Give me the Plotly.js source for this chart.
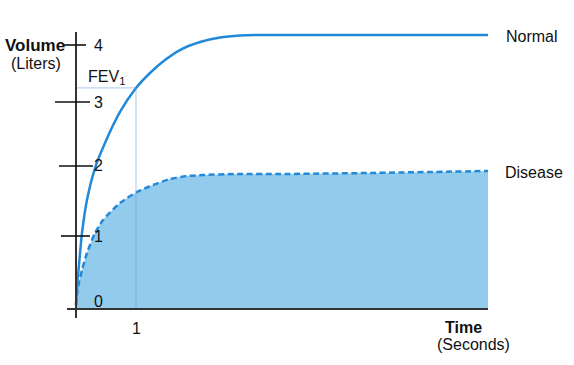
<!DOCTYPE html>
<html>
<head>
<meta charset="utf-8">
<script src="https://cdn.plot.ly/plotly-3.0.1.min.js"></script>
<style>html,body{margin:0;padding:0;background:#fff;}#chart{width:574px;height:365px;}</style>
</head>
<body>
<div id="chart"></div>
<script>
// Time in seconds, volume in liters
var normalTime   = [0, 0.017, 0.05, 0.1, 0.183, 0.317, 0.483, 0.733, 1.0, 1.233, 1.483, 1.733, 2.067, 2.4, 2.733, 2.983, 6.867];
var normalVolume = [0.061, 0.333, 0.667, 1.152, 1.652, 2.136, 2.515, 2.985, 3.348, 3.576, 3.773, 3.924, 4.045, 4.114, 4.144, 4.152, 4.152];
var diseaseTime   = [0, 0.033, 0.1, 0.183, 0.317, 0.45, 0.733, 1.017, 1.283, 1.567, 1.85, 2.117, 2.683, 3.4, 4.9, 6.867];
var diseaseVolume = [0.06, 0.333, 0.591, 0.848, 1.152, 1.348, 1.606, 1.773, 1.879, 1.970, 2.015, 2.030, 2.045, 2.045, 2.061, 2.091];
var yTickPos    = [0.12, 1.106, 2.167, 3.136, 4.0];
var yTickLabels = ["0", "1", "2", "3", "4"];
var xTickPos    = [1];
var xTickLabels = ["1"];
var fevTime = 1.0, fevVolume = 3.35;

var lineColor = "rgb(33,137,218)";
var font = "Liberation Sans, Arial, sans-serif";

var traces = [
  {x: diseaseTime, y: diseaseVolume, type: "scatter", mode: "lines", fill: "tozeroy",
   fillcolor: "rgb(147,203,237)", line: {color: lineColor, width: 2.5, dash: "6px,3.5px", shape: "spline", smoothing: 0.6},
   hoverinfo: "skip"},
  {x: normalTime, y: normalVolume, type: "scatter", mode: "lines",
   line: {color: lineColor, width: 2.5, shape: "spline", smoothing: 0.7}, hoverinfo: "skip"}
];

var shapes = [
  // FEV1 guide lines
  {type: "line", xref: "x", yref: "y", x0: fevTime, x1: fevTime, y0: 0, y1: fevVolume, layer: "above",
   line: {color: "rgba(110,160,225,0.45)", width: 1.3}},
  {type: "line", xref: "x", yref: "y", x0: 0, x1: fevTime, y0: fevVolume, y1: fevVolume, layer: "above",
   line: {color: "rgba(110,160,225,0.45)", width: 1.3}},
  // axes
  {type: "line", xref: "x", yref: "y", x0: 0, x1: 0, y0: -0.136, y1: 4.197, layer: "above",
   line: {color: "#333", width: 2}},
  {type: "line", xref: "x", yref: "y", x0: -0.15, x1: 6.867, y0: 0, y1: 0, layer: "above",
   line: {color: "#333", width: 2}}
];
var tickStart = [null, -0.25, -0.283, -0.35, -0.2];
var tickEnd   = [null, 0.233, 0.283, 0.233, 0.167];
for (var i = 1; i < yTickPos.length; i++) {
  shapes.push({type: "line", xref: "x", yref: "y", x0: tickStart[i], x1: tickEnd[i],
    y0: yTickPos[i], y1: yTickPos[i], layer: "above", line: {color: "#111", width: 1.6}});
}

var ann = [];
for (var j = 0; j < yTickPos.length; j++) {
  ann.push({x: 0.37, y: yTickPos[j], xref: "x", yref: "y", text: yTickLabels[j], showarrow: false,
    xanchor: "center", yanchor: "middle", font: {family: font, size: 16, color: "#111"}});
}
for (var k = 0; k < xTickPos.length; k++) {
  ann.push({x: xTickPos[k], y: -0.3, xref: "x", yref: "y", text: xTickLabels[k], showarrow: false,
    xanchor: "center", yanchor: "middle", font: {family: font, size: 16, color: "#111"}});
}
function txt(x, y, t, opts) {
  var a = {x: x, y: y, xref: "paper", yref: "paper", text: t, showarrow: false, xanchor: "left", yanchor: "middle",
    font: {family: font, size: 16, color: "#111"}};
  for (var key in opts) a[key] = opts[key];
  ann.push(a);
}
// paper coords: x = px/574, y = 1 - py/365
txt(3/574, 1 - 45/365, "<b>Volume</b>", {font: {family: font, size: 17, color: "#111"}});
txt(36/574, 1 - 63/365, "(Liters)", {xanchor: "center"});
txt(86/574, 1 - 77/365, "FEV<sub>1</sub>", {});
txt(504/574, 1 - 36/365, "Normal", {});
txt(503/574, 1 - 173/365, "Disease", {});
txt(463/574, 1 - 327/365, "<b>Time</b>", {xanchor: "center"});
txt(473/574, 1 - 344/365, "(Seconds)", {xanchor: "center"});

var layout = {
  width: 574, height: 365,
  margin: {l: 0, r: 0, t: 0, b: 0},
  paper_bgcolor: "#fff", plot_bgcolor: "#fff",
  showlegend: false,
  xaxis: {range: [-76/60, 498/60], visible: false, fixedrange: true},
  yaxis: {range: [-56/66, 309/66], visible: false, fixedrange: true},
  shapes: shapes,
  annotations: ann
};
Plotly.newPlot("chart", traces, layout, {displayModeBar: false, staticPlot: true});
</script>
</body>
</html>
